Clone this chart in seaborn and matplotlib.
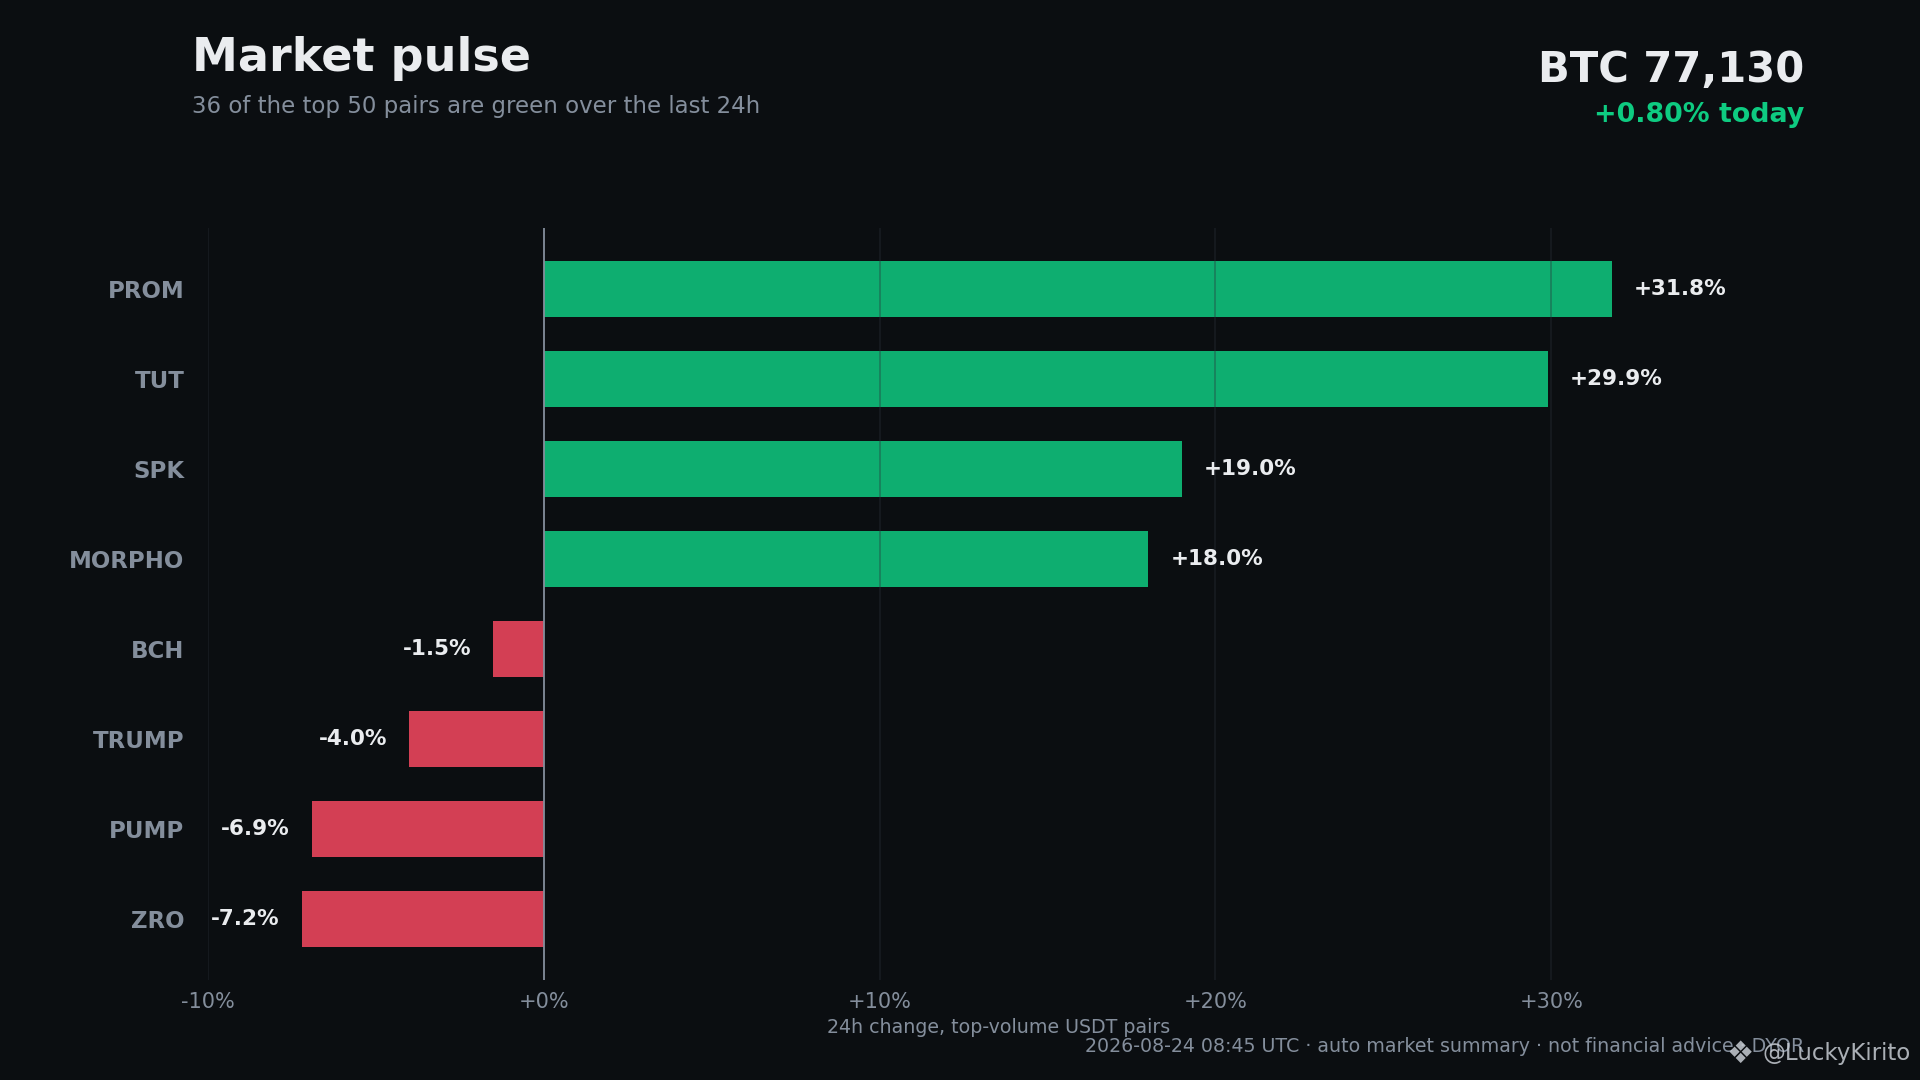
import matplotlib
matplotlib.use("Agg")
import matplotlib.pyplot as plt
import seaborn as sns
import pandas as pd

# ---- data ----
symbols = ["PROM", "TUT", "SPK", "MORPHO", "BCH", "TRUMP", "PUMP", "ZRO"]
changes = [31.8, 29.9, 19.0, 18.0, -1.5, -4.0, -6.9, -7.2]
tick_values = [-10, 0, 10, 20, 30]
tick_labels = ["-10%", "+0%", "+10%", "+20%", "+30%"]
title = "Market pulse"
subtitle = "36 of the top 50 pairs are green over the last 24h"
btc_text = "BTC 77,130"
btc_change = "+0.80% today"
xlabel = "24h change, top-volume USDT pairs"
footer = "2026-08-24 08:45 UTC · auto market summary · not financial advice · DYOR"
watermark_icon = "❖"
watermark = "@LuckyKirito"

BG = "#0b0e11"
GREEN = "#0eae70"
RED = "#d33f54"
TEXT = "#eaecef"
MUTED = "#848e9c"
GRID = "#2b3139"

sns.set_theme(style="dark")
plt.rcParams["font.family"] = ["DejaVu Sans"]

df = pd.DataFrame({"symbol": symbols, "change": changes})
df["sign"] = ["up" if v >= 0 else "down" for v in changes]

fig = plt.figure(figsize=(19.2, 10.8), dpi=100, facecolor=BG)
ax = fig.add_axes([0.1083, 0.0926, 0.9396 - 0.1083, 0.789 - 0.0926])
ax.set_facecolor(BG)

sns.barplot(data=df, x="change", y="symbol", hue="sign", orient="h",
            palette={"up": GREEN, "down": RED}, width=0.62, dodge=False,
            legend=False, ax=ax, zorder=1, saturation=1, linewidth=0,
            edgecolor="none")

ax.set_xlim(-10, max(changes) * 1.18)
ax.set_ylim(len(symbols) - 1 + 0.68, -0.68)

for x in tick_values:
    if x == 0:
        ax.axvline(x, color=MUTED, lw=1.3, zorder=3)
    else:
        ax.axvline(x, color=GRID, lw=1.2, alpha=0.4, zorder=3)

for i, v in enumerate(changes):
    ax.annotate(f"{v:+.1f}%", xy=(v, i), xytext=(16 if v >= 0 else -16, 0),
                textcoords="offset points", ha="left" if v >= 0 else "right",
                va="center", color=TEXT, fontsize=15.5, fontweight="bold", zorder=4)

ax.set_xticks(tick_values)
ax.set_xticklabels(tick_labels, color=MUTED, fontsize=15)
ax.tick_params(axis="x", length=0, pad=9)
ax.tick_params(axis="y", length=0, pad=17)
for lab in ax.get_yticklabels():
    lab.set_color(MUTED)
    lab.set_fontsize(16.5)
    lab.set_fontweight("bold")
ax.set_ylabel("")
ax.set_xlabel(xlabel, color=MUTED, fontsize=13.7, labelpad=5)
ax.xaxis.set_label_coords(0.4955, -0.05)
ax.grid(False)
for s in ax.spines.values():
    s.set_visible(False)

fig.text(0.1, 0.9345, title, color=TEXT, fontsize=33.2, fontweight="bold",
         ha="left", va="baseline")
fig.text(0.1, 0.895, subtitle, color=MUTED, fontsize=16.5, ha="left", va="baseline")
fig.text(0.9396, 0.924, btc_text, color=TEXT, fontsize=30, fontweight="bold",
         ha="right", va="baseline")
fig.text(0.9396, 0.8873, btc_change, color="#0ecb81", fontsize=19.4, fontweight="bold",
         ha="right", va="baseline")
fig.text(0.9396, 0.0306, footer, color=MUTED, fontsize=13.7, ha="right", va="center")
fig.text(0.9953, 0.0245, watermark, color="#c7ccd3", alpha=0.85, fontsize=16.5,
         ha="right", va="center")
fig.text(0.9065, 0.0235, watermark_icon, color="#c7ccd3", alpha=0.85, fontsize=22,
         ha="center", va="center")

fig.savefig("out.png", dpi=100, facecolor=BG)
